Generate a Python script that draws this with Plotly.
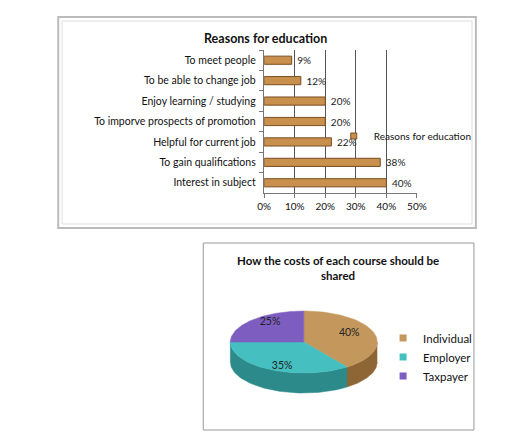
import numpy as np
import plotly.graph_objects as go

# data
reasons = ['To meet people', 'To be able to change job', 'Enjoy learning / studying',
           'To imporve prospects of promotion', 'Helpful for current job',
           'To gain qualifications', 'Interest in subject']
reason_pct = [9, 12, 20, 20, 22, 38, 40]

payers = ['Individual', 'Employer', 'Taxpayer']
payer_pct = [40, 35, 25]
payer_colors = ['#C4975C', '#46BFC0', '#7D5EC0']
payer_side = ['#8E6636', '#2C8A8B', '#5A3F95']

W, H = 512, 445
FONT = 'Lato'


def px(x):
    return x / W


def py(y):
    return 1 - y / H


fig = go.Figure()

# bar chart
fig.add_trace(go.Bar(
    x=reason_pct, y=reasons, orientation='h',
    name='Reasons for education', showlegend=False,
    marker=dict(color='#C98F4C', line=dict(color='#7A4E22', width=1)),
    text=[f' {v}%' for v in reason_pct], textposition='outside',
    constraintext='none',
    textfont=dict(size=10, color='#222'), cliponaxis=False,
    width=0.4, xaxis='x', yaxis='y'))
# small square legend key like the original
fig.add_trace(go.Scatter(
    x=[None], y=[None], mode='markers', name='Reasons for education',
    marker=dict(symbol='square', size=6, color='#C98F4C',
                line=dict(color='#7A4E22', width=1)),
    legend='legend', xaxis='x', yaxis='y'))

# 3d-ish pie drawn as ellipse slices
a, b, depth = 76, 31, 20
bounds = np.cumsum([0] + payer_pct) / sum(payer_pct) * 2 * np.pi  # clockwise from top


def edge(t, dy=0):
    return a * np.sin(t), b * np.cos(t) - dy


# side walls first (only front half visible)
for i in range(len(payers)):
    t0, t1 = max(bounds[i], np.pi / 2), min(bounds[i + 1], 3 * np.pi / 2)
    if t1 <= t0:
        continue
    t = np.linspace(t0, t1, 60)
    x1, y1 = edge(t)
    x2, y2 = edge(t[::-1], depth)
    fig.add_trace(go.Scatter(
        x=np.r_[x1, x2], y=np.r_[y1, y2], fill='toself', mode='lines',
        fillcolor=payer_side[i], line=dict(color=payer_side[i], width=0.5),
        showlegend=False, hoverinfo='skip', xaxis='x2', yaxis='y2'))

for i, name in enumerate(payers):
    t = np.linspace(bounds[i], bounds[i + 1], 80)
    ex, ey = edge(t)
    fig.add_trace(go.Scatter(
        x=np.r_[0, ex, 0], y=np.r_[0, ey, 0], fill='toself', mode='lines',
        fillcolor=payer_colors[i], line=dict(color=payer_colors[i], width=0.5),
        name=name, legendgroup=name, showlegend=False, xaxis='x2', yaxis='y2'))
    fig.add_trace(go.Scatter(
        x=[None], y=[None], mode='markers', name=name, legendgroup=name,
        marker=dict(symbol='square', size=7, color=payer_colors[i]),
        legend='legend2', xaxis='x2', yaxis='y2'))

mids = (bounds[:-1] + bounds[1:]) / 2
lx, ly = edge(mids)
fig.add_trace(go.Scatter(
    x=lx * 0.65, y=ly * 0.9, mode='text',
    text=[f'{v}%' for v in payer_pct],
    textfont=dict(size=10.5, color='#222', family=FONT),
    showlegend=False, hoverinfo='skip', xaxis='x2', yaxis='y2'))

fig.update_layout(
    width=W, height=H,
    margin=dict(l=0, r=0, t=0, b=0),
    paper_bgcolor='white', plot_bgcolor='rgba(0,0,0,0)',
    font=dict(family=FONT, size=10, color='#111'),
    bargap=0.6,
    xaxis=dict(domain=[px(266), px(424)], range=[0, 50], dtick=10, ticksuffix='%',
               showgrid=True, gridcolor='#555', gridwidth=1,
               showline=True, linecolor='#777', ticks='outside', ticklen=4,
               tickcolor='#777', zeroline=False, fixedrange=True,
               tickfont=dict(size=10, color='#111'), anchor='y'),
    yaxis=dict(domain=[py(193), py(50)], autorange='reversed',
               showline=True, linecolor='#777', ticks='outside', ticklen=4,
               tickcolor='#777', tickson='boundaries', showgrid=False,
               tickfont=dict(size=10.5, color='#111'), anchor='x', ticksuffix='  '),
    xaxis2=dict(domain=[px(217), px(397)], range=[-90, 90], visible=False,
                fixedrange=True, anchor='y2'),
    yaxis2=dict(domain=[py(410), py(300)], range=[-68, 42], visible=False,
                fixedrange=True, anchor='x2'),
    legend=dict(x=px(338), y=py(136), xanchor='left', yanchor='middle',
                bgcolor='rgba(0,0,0,0)', font=dict(size=10),
                itemwidth=30, tracegroupgap=0),
    legend2=dict(x=px(389), y=py(357), xanchor='left', yanchor='middle',
                 bgcolor='rgba(0,0,0,0)', font=dict(size=11.5),
                 itemwidth=30, tracegroupgap=0),
    annotations=[
        dict(text='<b>Reasons for education</b>', x=px(267), y=py(38),
             xanchor='center', yanchor='middle',
             xref='paper', yref='paper', showarrow=False, font=dict(size=12.5)),
        dict(text='<b>How the costs of each course should be<br>shared</b>',
             x=px(342), y=py(268), xanchor='center', yanchor='middle',
             xref='paper', yref='paper', showarrow=False,
             font=dict(size=11.5)),
    ],
    shapes=[
        dict(type='rect', xref='paper', yref='paper', x0=px(53), x1=px(485),
             y0=py(228), y1=py(17), line=dict(color='#BBBBBB', width=2)),
        dict(type='rect', xref='paper', yref='paper', x0=px(57), x1=px(481),
             y0=py(224), y1=py(21), line=dict(color='#DDDDDD', width=1)),
        dict(type='rect', xref='paper', yref='paper', x0=px(203), x1=px(483),
             y0=py(430), y1=py(243), line=dict(color='#999999', width=1)),
    ],
)

fig.write_html('out.html', config={'displayModeBar': False},
               post_script="document.body.style.margin='0';"
                           "document.body.style.overflow='hidden';")
